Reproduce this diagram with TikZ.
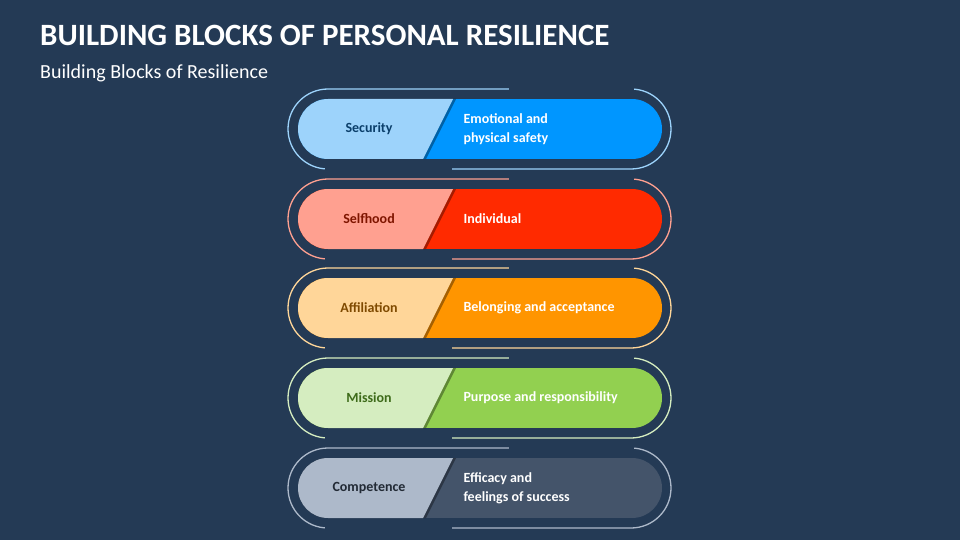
\documentclass[tikz,border=0pt]{standalone}
\usepackage{fontspec}
\setmainfont{Carlito}
\begin{document}
\begin{tikzpicture}[x=1pt,y=-1pt,
  lab/.style={font=\bfseries\fontsize{14}{17}\selectfont,anchor=center},
  desc/.style={font=\bfseries\fontsize{14}{19}\selectfont,text=white,anchor=west,align=left}]
\definecolor{bg}{HTML}{243A55}
\useasboundingbox (0,0) rectangle (960,540);
\fill[bg] (0,0) rectangle (960,540);
\node[anchor=west,text=white,font=\bfseries\fontsize{31}{36}\selectfont,inner sep=0pt] (title) at (40,35) {BUILDING BLOCKS OF PERSONAL RESILIENCE};
\node[anchor=west,text=white,font=\fontsize{20}{24}\selectfont,inner sep=0pt] (sub) at (40,73) {Building Blocks of Resilience};
\foreach \yc/\lc/\dc/\tc/\name/\txt [count=\i] in {
  129/9DD3FB/0096FF/0B3F6B/Security/{Emotional and\\physical safety},
  219/FFA090/FF2A00/7F1500/Selfhood/{Individual},
  308/FFD699/FF9500/7F4A00/Affiliation/{Belonging and acceptance},
  398/D5EDC0/92D050/3E6B1A/Mission/{Purpose and responsibility},
  488/ADB9CA/44546A/222A35/Competence/{Efficacy and\\feelings of success}}{
  \definecolor{lc}{HTML}{\lc}\definecolor{dc}{HTML}{\dc}\definecolor{tc}{HTML}{\tc}
  \draw[lc,line width=1.3pt,rounded corners=40pt] (288,\yc-40) rectangle (671,\yc+40);
  \fill[bg] (508.8,\yc-42) rectangle (634,\yc-38);
  \fill[bg] (325,\yc+38) rectangle (452.2,\yc+42);
  \begin{scope}
    \clip[rounded corners=30pt] (298,\yc-30) rectangle (662,\yc+30);
    \fill[dc] (298,\yc-30) rectangle (662,\yc+30);
    \fill[black,opacity=0.35] (298,\yc-30) -- (456,\yc-30) -- (426,\yc+30) -- (298,\yc+30) -- cycle;
    \fill[lc] (298,\yc-30) -- (453,\yc-30) -- (423,\yc+30) -- (298,\yc+30) -- cycle;
  \end{scope}
  \node[lab,text=tc] (k\i) at (369,\yc) {\name};
  \node[desc] (d\i) at (460,\yc) {\txt};
}
\end{tikzpicture}
\end{document}
